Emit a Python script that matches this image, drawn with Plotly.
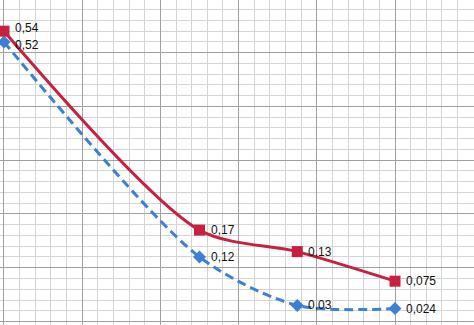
import plotly.graph_objects as go

x_vals = [0, 5, 7.5, 10]
red_vals = [0.54, 0.17, 0.13, 0.075]
blue_vals = [0.52, 0.12, 0.03, 0.024]
red_labels = ["0,54", "0,17", "0,13", "0,075"]
blue_labels = ["0,52", "0,12", "0,03", "0,024"]

fig = go.Figure()
fig.add_trace(go.Scatter(
    x=x_vals, y=blue_vals, mode="lines+markers",
    line=dict(color="#3d7fd8", width=3, dash="9px,5px", shape="spline", smoothing=0.8),
    marker=dict(symbol="diamond", size=10, color="#3d7fd8"),
    cliponaxis=False, showlegend=False))
fig.add_trace(go.Scatter(
    x=x_vals, y=red_vals, mode="lines+markers",
    line=dict(color="#c8203f", width=3, shape="spline", smoothing=0.8),
    marker=dict(symbol="square", size=11, color="#c8203f"),
    cliponaxis=False, showlegend=False))

for i, (xv, yv, lab) in enumerate(zip(x_vals, red_vals, red_labels)):
    fig.add_annotation(x=xv, y=yv, text=lab, showarrow=False,
                       xanchor="left", yanchor="middle", xshift=10, yshift=3 if i == 0 else 0,
                       borderpad=0,
                       font=dict(family="Liberation Sans", size=12, color="#111"))
for i, (xv, yv, lab) in enumerate(zip(x_vals, blue_vals, blue_labels)):
    fig.add_annotation(x=xv, y=yv, text=lab, showarrow=False,
                       xanchor="left", yanchor="middle", xshift=10, yshift=-3 if i == 0 else 0,
                       borderpad=0,
                       font=dict(family="Liberation Sans", size=12, color="#111"))

fig.update_layout(
    width=474, height=325, margin=dict(l=0, r=0, t=0, b=0),
    plot_bgcolor="white", paper_bgcolor="white",
    xaxis=dict(range=[-0.102, 12.02], dtick=2, tick0=0, showgrid=True,
               gridcolor="#a0a0a0", gridwidth=1.2, zeroline=False,
               showticklabels=False, ticks="",
               minor=dict(dtick=0.4, tick0=0, showgrid=True, gridcolor="#d4d4d4", gridwidth=1.2)),
    yaxis=dict(range=[-0.0065, 0.598], dtick=0.1, tick0=0, showgrid=True,
               gridcolor="#a0a0a0", gridwidth=1.2, zeroline=False,
               showticklabels=False, ticks="",
               minor=dict(dtick=0.02, tick0=0, showgrid=True, gridcolor="#d4d4d4", gridwidth=1.2)),
)
fig.write_html("out.html")
